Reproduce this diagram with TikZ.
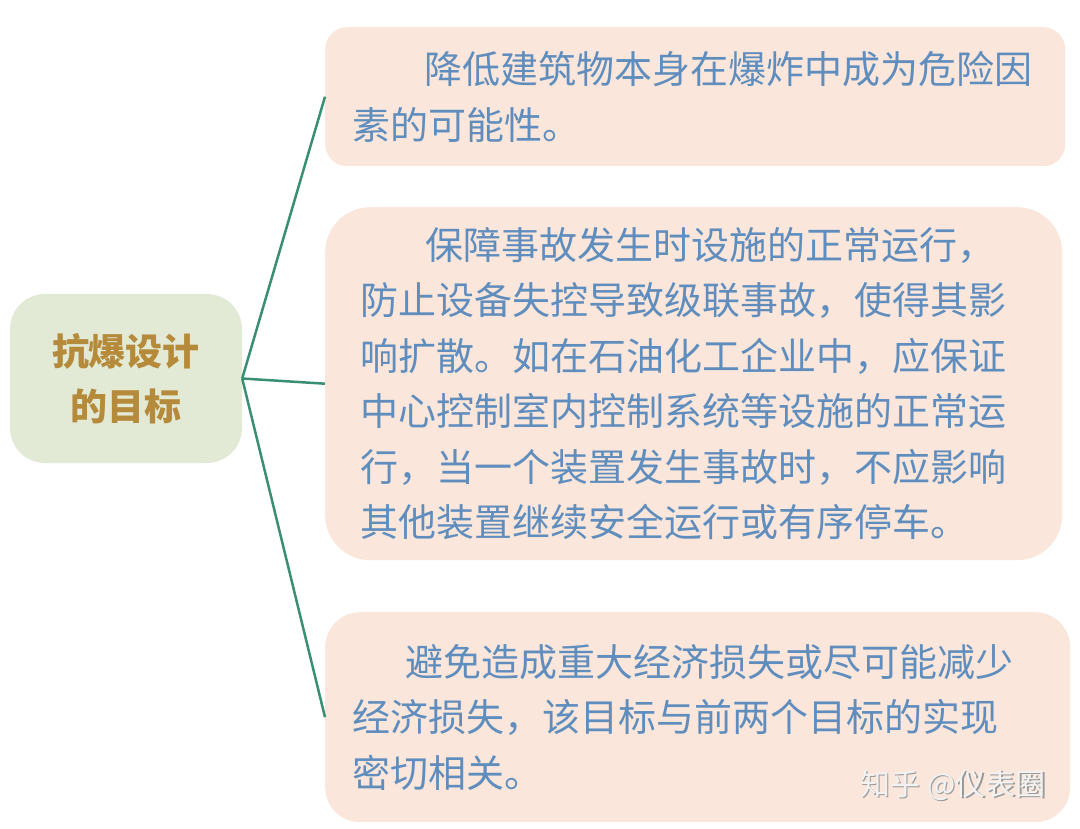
\documentclass[tikz,border=0pt]{standalone}
\usepackage{fontspec}
\newfontfamily\cjk{Noto Sans CJK SC}
\usetikzlibrary{positioning}
\definecolor{peach}{HTML}{FAE6DA}
\definecolor{sage}{HTML}{E2EAD6}
\definecolor{goaltext}{HTML}{B58A3A}
\definecolor{bodytext}{HTML}{5F8DBE}
\definecolor{branch}{HTML}{3A8F72}

\begin{document}
\begin{tikzpicture}[x=1pt, y=-1pt,
    aim/.style={fill=peach, anchor=north west, align=left, inner ysep=0pt,
        text=bodytext, font=\cjk\fontsize{38}{55.5}\selectfont},
    link/.style={draw=branch, line width=2.5pt}]
            \useasboundingbox (0,0) rectangle (1080,829);
            \node[fill=sage, rounded corners=35pt, minimum width=232pt, minimum height=169pt,
                align=center, text=goaltext, font=\cjk\bfseries\fontsize{37}{55}\selectfont]
                (goal) at (126,378.5) {抗爆设计\\的目标};
            \node[aim, rounded corners=22pt, minimum height=139pt, inner xsep=27pt, text width=686pt]
                (aim1) at (325,27) {\hspace*{72pt}降低建筑物本身在爆炸中成为危险因\\素的可能性。};
            \node[aim, rounded corners=45pt, minimum height=353pt, inner xsep=35pt, text width=667pt]
                (aim2) at (325,207) {\hspace*{65pt}保障事故发生时设施的正常运行，\\防止设备失控导致级联事故，使得其影\\响扩散。如在石油化工企业中，应保证\\中心控制室内控制系统等设施的正常运\\行，当一个装置发生事故时，不应影响\\其他装置继续安全运行或有序停车。};
            \node[aim, rounded corners=35pt, minimum height=210pt, inner xsep=27pt, text width=691pt]
                (aim3) at (325,612) {\hspace*{53pt}避免造成重大经济损失或尽可能减少\\经济损失，该目标与前两个目标的实现\\密切相关。};
            \draw[link] (goal.east) -- (aim1.west);
            \draw[link] (goal.east) -- (aim2.west);
            \draw[link] (goal.east) -- (aim3.west);
            \node[text=black!40, font=\cjk\fontsize{30}{30}\selectfont] (wmshadow) at (954.5,786.5) {知乎 @仪表圈};
            \node[text=white!95!black, font=\cjk\fontsize{30}{30}\selectfont] (wm) at (953,785) {知乎 @仪表圈};
        \end{tikzpicture}
\end{document}
